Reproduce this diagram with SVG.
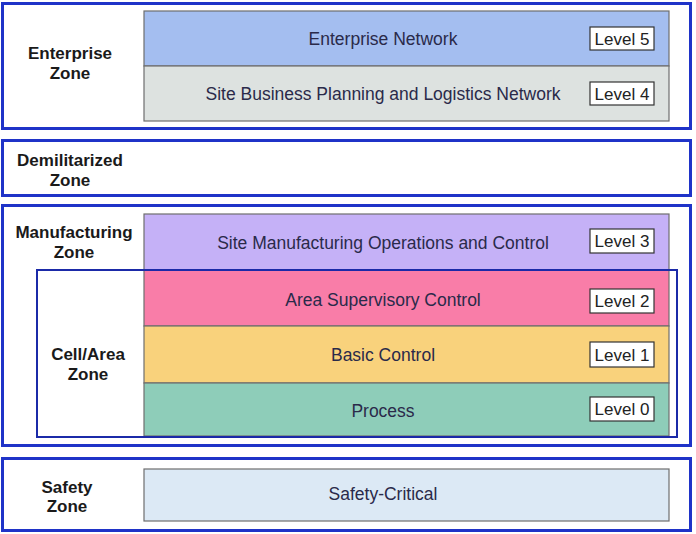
<svg xmlns="http://www.w3.org/2000/svg" width="696" height="534" viewBox="0 0 696 534">
<style>
.zone{fill:#fff;stroke:#1f33c8;stroke-width:3}
.cell{fill:none;stroke:#1b2aa8;stroke-width:2}
.layer{stroke:#6e6e6e;stroke-width:1.2}
.lvl{fill:#fff;stroke:#333;stroke-width:1.2}
.zt{font-family:"Liberation Sans",Arial,sans-serif;font-weight:bold;font-size:17px;fill:#1a1a1a;text-anchor:middle}
.lt{font-family:"Liberation Sans",Arial,sans-serif;font-size:17.5px;fill:#2a2a4a;text-anchor:middle}
.lv{font-family:"Liberation Sans",Arial,sans-serif;font-size:17px;fill:#222;text-anchor:middle}
</style>
<rect width="696" height="534" fill="#fff"/>
<g id="enterprise-zone">
<rect class="zone" x="2.5" y="3.5" width="688" height="125"/>
<text class="zt" x="70" y="59">Enterprise</text>
<text class="zt" x="70" y="79">Zone</text>
</g>
<g id="enterprise-network">
<rect class="layer" x="144" y="11" width="525" height="55" fill="#a4bef0"/>
<text class="lt" x="383" y="45">Enterprise Network</text>
<rect class="lvl" x="590" y="27" width="64" height="23"/>
<text class="lv" x="622" y="45">Level 5</text>
</g>
<g id="site-business">
<rect class="layer" x="144" y="66" width="525" height="55" fill="#dde2e0"/>
<text class="lt" x="383" y="100">Site Business Planning and Logistics Network</text>
<rect class="lvl" x="590" y="82" width="64" height="23"/>
<text class="lv" x="622" y="100">Level 4</text>
</g>
<g id="dmz">
<rect class="zone" x="2.5" y="140.5" width="688" height="55"/>
<text class="zt" x="70" y="166">Demilitarized</text>
<text class="zt" x="70" y="186">Zone</text>
</g>
<g id="manufacturing-zone">
<rect class="zone" x="2.5" y="205.5" width="688" height="240"/>
<text class="zt" x="74" y="238">Manufacturing</text>
<text class="zt" x="74" y="258">Zone</text>
</g>
<g id="site-manufacturing">
<rect class="layer" x="144" y="214" width="525" height="56" fill="#c5b1f7"/>
<text class="lt" x="383" y="249">Site Manufacturing Operations and Control</text>
<rect class="lvl" x="590" y="229" width="64" height="24"/>
<text class="lv" x="622" y="247">Level 3</text>
</g>
<g id="area-supervisory">
<rect class="layer" x="144" y="270" width="525" height="56" fill="#f97da8"/>
<text class="lt" x="383" y="306">Area Supervisory Control</text>
<rect class="lvl" x="590" y="289" width="64" height="24"/>
<text class="lv" x="622" y="307">Level 2</text>
</g>
<g id="basic-control">
<rect class="layer" x="144" y="326" width="525" height="57" fill="#f9d27c"/>
<text class="lt" x="383" y="361">Basic Control</text>
<rect class="lvl" x="590" y="342" width="64" height="25"/>
<text class="lv" x="622" y="361">Level 1</text>
</g>
<g id="process">
<rect class="layer" x="144" y="383" width="525" height="53" fill="#8ecdb9"/>
<text class="lt" x="383" y="417">Process</text>
<rect class="lvl" x="590" y="397" width="64" height="24"/>
<text class="lv" x="622" y="415">Level 0</text>
</g>
<g id="cell-area-zone">
<rect class="cell" x="37" y="270" width="640" height="167"/>
<text class="zt" x="88" y="360">Cell/Area</text>
<text class="zt" x="88" y="380">Zone</text>
</g>
<g id="safety-zone">
<rect class="zone" x="2.5" y="458.5" width="688" height="72"/>
<text class="zt" x="67" y="493">Safety</text>
<text class="zt" x="67" y="512">Zone</text>
</g>
<g id="safety-critical">
<rect class="layer" x="144" y="469" width="525" height="52" fill="#dce9f5"/>
<text class="lt" x="383" y="500">Safety-Critical</text>
</g>
<g id="connectors"/>
</svg>
